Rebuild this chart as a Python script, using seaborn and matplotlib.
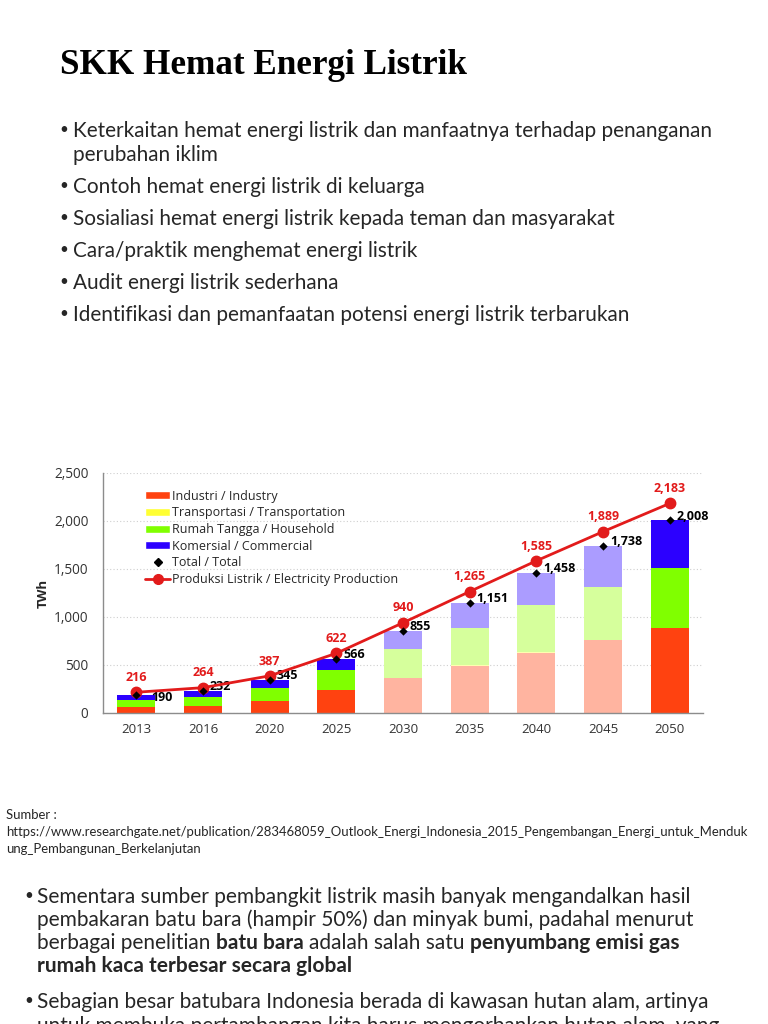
import numpy as np
import pandas as pd
import seaborn as sns
import matplotlib.pyplot as plt
from matplotlib.patches import Patch
from matplotlib.lines import Line2D
from matplotlib.ticker import StrMethodFormatter

# chart data (TWh)
years = ['2013', '2016', '2020', '2025', '2030', '2035', '2040', '2045', '2050']
industry = [63, 70, 126, 238, 366, 494, 627, 756, 881]
transport = [1, 1, 1, 2, 3, 4, 5, 6, 7]
household = [76, 100, 132, 208, 300, 383, 489, 554, 627]
commercial = [50, 61, 86, 118, 186, 270, 337, 422, 493]
total = [190, 232, 345, 566, 855, 1151, 1458, 1738, 2008]
production = [216, 264, 387, 622, 940, 1265, 1585, 1889, 2183]
pale_years = ['2030', '2035', '2040', '2045']

title = 'SKK Hemat Energi Listrik'
bullets_top = [
    ['Keterkaitan hemat energi listrik dan manfaatnya terhadap penanganan', 'perubahan iklim'],
    ['Contoh hemat energi listrik di keluarga'],
    ['Sosialiasi hemat energi listrik kepada teman dan masyarakat'],
    ['Cara/praktik menghemat energi listrik'],
    ['Audit energi listrik sederhana'],
    ['Identifikasi dan pemanfaatan potensi energi listrik terbarukan'],
]
source_lines = [
    'Sumber :',
    'https://www.researchgate.net/publication/283468059_Outlook_Energi_Indonesia_2015_Pengembangan_Energi_untuk_Menduk',
    'ung_Pembangunan_Berkelanjutan',
]

sns.set_style('white')
plt.rcParams['font.family'] = ['Lato', 'DejaVu Sans']

W, H = 768, 1024
fig = plt.figure(figsize=(W / 100, H / 100), dpi=100)

def fx(px):
    return px / W

def fy(py):
    return 1 - py / H

# ---- slide text ----
fig.text(fx(60), fy(65), title, fontsize=25.3, fontweight='bold',
         family='Liberation Serif', va='center', ha='left', color='black')

line_y = [131, 155, 187, 219, 251, 283, 315]
k = 0
for item in bullets_top:
    for j, line in enumerate(item):
        if j == 0:
            fig.text(fx(59), fy(line_y[k] - 1), '•', fontsize=11, va='center', ha='left')
        fig.text(fx(73), fy(line_y[k]), line, fontsize=14.95, va='center', ha='left')
        k += 1

for i, s in enumerate(source_lines):
    fig.text(fx(6), fy(815 + i * 17), s, fontsize=9.45, va='center', ha='left')

renderer = fig.canvas.get_renderer()

def text_width(s, size, weight):
    t = fig.text(0, 0, s, fontsize=size, fontweight=weight)
    w = t.get_window_extent(renderer=renderer).width
    t.remove()
    return w

def draw_runs(x, y, runs, size):
    sp = text_width('x x', size, 'normal') - text_width('xx', size, 'normal')
    for s, weight in runs:
        t = fig.text(fx(x), fy(y), s, fontsize=size, fontweight=weight, va='center', ha='left')
        x += t.get_window_extent(renderer=renderer).width + sp

bottom_lines = [
    (897, [('Sementara sumber pembangkit listrik masih banyak mengandalkan hasil', 'normal')], True),
    (920, [('pembakaran batu bara (hampir 50%) dan minyak bumi, padahal menurut', 'normal')], False),
    (943, [('berbagai penelitian', 'normal'), ('batu bara', 'bold'), ('adalah salah satu', 'normal'),
           ('penyumbang emisi gas', 'bold')], False),
    (966, [('rumah kaca terbesar secara global', 'bold')], False),
    (1002, [('Sebagian besar batubara Indonesia berada di kawasan hutan alam, artinya', 'normal')], True),
    (1026, [('untuk membuka pertambangan kita harus mengorbankan hutan alam, yang', 'normal')], False),
]
for y, runs, has_bullet in bottom_lines:
    if has_bullet:
        fig.text(fx(24), fy(y - 1), '•', fontsize=11, va='center', ha='left')
    draw_runs(37, y, runs, 15)

# ---- chart ----
cfont = 'Open Sans'
ax = fig.add_axes([fx(103), fy(713), fx(703) - fx(103), (713 - 473) / H])

def pick(sat, pale):
    return [pale if y in pale_years else sat for y in years]

ind_c = pick('#FF4210', '#FFB4A0')
tr_c = pick('#FFFF33', '#FFFFB0')
hh_c = pick('#80FF00', '#D6FF9C')
com_c = pick('#2C00FF', '#AB9CFF')

df = pd.DataFrame({'year': years, 'industry': industry, 'transport': transport,
                   'household': household, 'commercial': commercial})
df['c1'] = df['industry']
df['c2'] = df['c1'] + df['transport']
df['c3'] = df['c2'] + df['household']
df['c4'] = df['c3'] + df['commercial']

for col, colors in [('c4', com_c), ('c3', hh_c), ('c2', tr_c), ('c1', ind_c)]:
    sns.barplot(data=df, x='year', y=col, hue='year', palette=colors, width=0.57,
                saturation=1, legend=False, linewidth=0, ax=ax)

pos = np.arange(len(years))
red = '#E21B1B'
ax.plot(pos, production, color=red, lw=2, marker='o', markersize=7.5, zorder=5)
sns.scatterplot(x=pos, y=total, marker='D', s=18, color='black', zorder=6, ax=ax, linewidth=0)

for i, v in enumerate(production):
    ax.annotate(f'{v:,}', (i, v), xytext=(0, 6), textcoords='offset points', ha='center',
                va='bottom', color=red, fontsize=9, fontweight='bold', family=cfont)
for i, v in enumerate(total):
    dx, dy = (11, -2) if i == 0 else (5, 3)
    ax.annotate(f'{v:,}', (i, v), xytext=(dx, dy), textcoords='offset points', ha='left',
                va='center', color='black', fontsize=9, fontweight='bold', family=cfont)

ax.set_xlim(-0.5, len(years) - 0.5)
ax.set_ylim(0, 2500)
ax.set_yticks(np.arange(0, 2501, 500))
ax.yaxis.set_major_formatter(StrMethodFormatter('{x:,.0f}'))
ax.grid(axis='y', color='#CFCFCF', linestyle=(0, (1, 2)), lw=0.8)
ax.set_axisbelow(True)
ax.set_xlabel('')
ax.set_ylabel('TWh', fontsize=9.5, fontweight='bold', labelpad=3, family=cfont)
for s in ['top', 'right']:
    ax.spines[s].set_visible(False)
for s in ['left', 'bottom']:
    ax.spines[s].set_color('#8C8C8C')
    ax.spines[s].set_linewidth(1)
ax.set_xticks(pos - 0.5, minor=True)
ax.tick_params(axis='x', which='major', length=0, labelsize=9.5, colors='#333333', pad=7.5)
ax.tick_params(axis='x', which='minor', length=4, color='#8C8C8C')
ax.tick_params(axis='y', length=0, labelsize=9.8, colors='#333333', pad=10.5)
for lab in ax.get_xticklabels() + ax.get_yticklabels():
    lab.set_family(cfont)

handles = [
    Patch(facecolor='#FF4210', label='Industri / Industry'),
    Patch(facecolor='#FFFF33', label='Transportasi / Transportation'),
    Patch(facecolor='#80FF00', label='Rumah Tangga / Household'),
    Patch(facecolor='#2C00FF', label='Komersial / Commercial'),
    Line2D([], [], color='none', marker='D', markersize=4, markerfacecolor='black',
           markeredgecolor='black', label='Total / Total'),
    Line2D([], [], color=red, lw=2, marker='o', markersize=7, label='Produksi Listrik / Electricity Production'),
]
ax.legend(handles=handles, loc='upper left', bbox_to_anchor=(0.07, 0.93), frameon=False,
          prop={'family': cfont, 'size': 9}, handlelength=2.0, handleheight=0.6,
          handletextpad=0.15, labelspacing=0.29, borderpad=0, borderaxespad=0)

fig.savefig('out.png', dpi=100)
